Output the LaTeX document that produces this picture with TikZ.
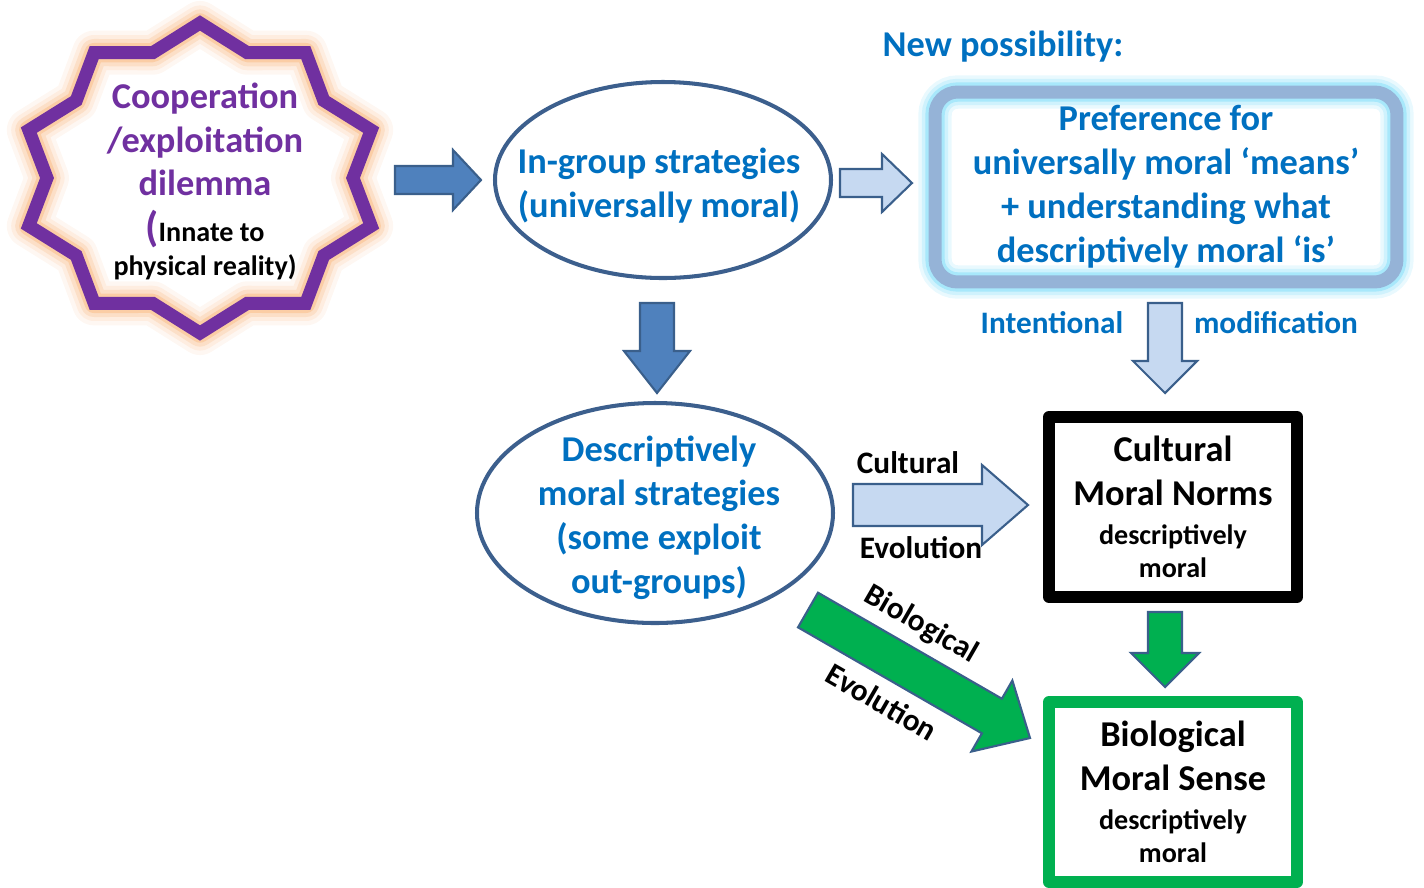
\documentclass[tikz,border=0pt]{standalone}
\usepackage{fontspec}
\setmainfont{Carlito}
\usetikzlibrary{calc}

\definecolor{purp}{HTML}{7030A0}
\definecolor{txtblue}{HTML}{0070C0}
\definecolor{ellline}{HTML}{3C5F8D}
\definecolor{darkfill}{HTML}{4F81BD}
\definecolor{arrline}{HTML}{3A5F8B}
\definecolor{lightfill}{HTML}{C6D9F1}
\definecolor{prefline}{HTML}{95B3D7}
\definecolor{glowcyan}{HTML}{A8E8FB}
\definecolor{glowor}{HTML}{FAC08F}
\definecolor{grn}{HTML}{00B050}

\newcommand{\smallf}{\fontsize{16}{18}\selectfont}
% block arrow: [style]{tail}{tip}{half shaft}{half head}{head length}
\newcommand{\fatarrow}[6][]{%
  \coordinate (neck) at ($(#3)!#6!(#2)$);
  \draw[#1] ($(#2)!#4!90:(#3)$) -- ($(neck)!#4!90:(#3)$) -- ($(neck)!#5!90:(#3)$) -- (#3)
    -- ($(neck)!#5!-90:(#3)$) -- ($(neck)!#4!-90:(#3)$) -- ($(#2)!#4!-90:(#3)$) -- cycle;}

\begin{document}
\begin{tikzpicture}[x=0.02cm,y=-0.02cm,
  txt/.style={font=\bfseries\fontsize{20.7}{25}\selectfont,align=center,inner sep=0},
  lbl/.style={font=\bfseries\fontsize{17.8}{20}\selectfont,inner sep=0},
  ell/.style={draw=ellline,line width=2.3pt},
  darkarr/.style={fill=darkfill,draw=arrline,line width=1.2pt},
  lightarr/.style={fill=lightfill,draw=arrline,line width=1.2pt},
  grnarr/.style={fill=grn,draw=arrline,line width=1.2pt},
  normbox/.style={txt,draw,line width=6.8pt,line join=round,minimum width=4.96cm,minimum height=3.6cm}]
\useasboundingbox (0,0) rectangle (1424,887);

% star with glow
\begin{scope}[shift={(200,178)}]
\draw[purp,line width=7.4pt,line join=miter,
  preaction={draw=glowor!12,line width=25pt,line join=round},
  preaction={draw=glowor!28,line width=20pt,line join=round},
  preaction={draw=glowor!50,line width=15.5pt,line join=round},
  preaction={draw=glowor!80,line width=11pt,line join=round}]
  (90:180 and 155) foreach \a in {90,54,...,-234}{ -- (\a-18:153 and 131.75) -- (\a-36:180 and 155)} -- cycle;
\end{scope}
\node[txt,text=purp] (dilemma) at (205,181) {Cooperation\\/exploitation\\dilemma\\[1pt]{\fontsize{24}{25}\selectfont(}{\color{black}\fontsize{16}{19}\selectfont Innate to}\\[-6pt]{\color{black}\fontsize{16}{19}\selectfont physical reality)}};

% strategies
\node[txt,text=txtblue] (ingroup) at (659,186) {In-group strategies\\(universally moral)};
\draw[ell] (663,180) ellipse [x radius=168,y radius=98];
\node[txt,text=txtblue] (descr) at (659,518) {Descriptively\\moral strategies\\(some exploit\\out-groups)};
\draw[ell] (655,513) ellipse [x radius=178,y radius=110];

% new possibility
\node[txt,text=txtblue] (newposs) at (1003,47) {New possibility:};
\node[txt,text=txtblue,draw=prefline,line width=7.4pt,rounded corners=0.45cm,minimum width=9.24cm,minimum height=3.8cm,
  preaction={draw=glowcyan!25,line width=19pt},preaction={draw=glowcyan!55,line width=15pt},
  preaction={draw=glowcyan,line width=11pt}] (pref) at (1166,187)
  {Preference for\\universally moral ‘means’\\+ understanding what\\descriptively moral ‘is’};
\node[lbl,text=txtblue] (intent) at (1052,323) {Intentional};
\node[lbl,text=txtblue] (modif) at (1276,323) {modification};

% norms and sense
\node[normbox] (norms) at (1173,507) {Cultural\\Moral Norms\\[-3pt]{\smallf descriptively}\\[-6pt]{\smallf moral}};
\node[normbox,draw=grn] (sense) at (1173,792) {Biological\\Moral Sense\\[-3pt]{\smallf descriptively}\\[-6pt]{\smallf moral}};

\node[lbl] (cult) at (908,463) {Cultural};
\node[lbl] (evo) at (921,548) {Evolution};
\node[lbl,rotate=-30] (bio) at (921,625) {Biological};
\node[lbl,rotate=-30] (bioevo) at (882,702) {Evolution};

% block arrows
\coordinate (a1) at (395,180); \coordinate (a1t) at (481,180);
\coordinate (a2) at (840,183); \coordinate (a2t) at (912,183);
\coordinate (a3) at (657,303); \coordinate (a3t) at (657,393);
\coordinate (a4) at (1165,303); \coordinate (a4t) at (1165,393);
\coordinate (a5) at (853,505); \coordinate (a5t) at (1028,505);
\coordinate (a6) at (1165,612); \coordinate (a6t) at (1165,687);
\coordinate (a7) at (808,610); \coordinate (a7t) at (1030,738);
\fatarrow[darkarr]{a1}{a1t}{0.28cm}{0.6cm}{0.56cm}
\fatarrow[lightarr]{a2}{a2t}{0.28cm}{0.58cm}{0.6cm}
\fatarrow[darkarr]{a3}{a3t}{0.34cm}{0.66cm}{0.84cm}
\fatarrow[lightarr]{a4}{a4t}{0.34cm}{0.64cm}{0.64cm}
\fatarrow[lightarr]{a5}{a5t}{0.42cm}{0.8cm}{0.92cm}
\fatarrow[grnarr]{a6}{a6t}{0.34cm}{0.68cm}{0.68cm}
\fatarrow[grnarr]{a7}{a7t}{0.4cm}{0.82cm}{0.88cm}
\end{tikzpicture}
\end{document}
